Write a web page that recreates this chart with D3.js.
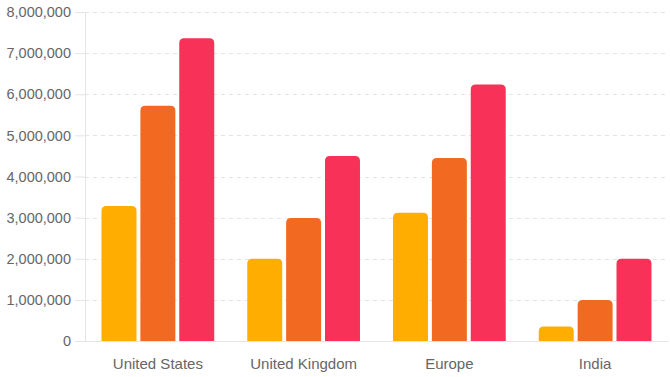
<!DOCTYPE html>
<html>
<head>
<meta charset="utf-8">
<script src="https://cdn.jsdelivr.net/npm/d3@7"></script>
<style>
  body { margin: 0; background: #fff; }
  #chart { width: 670px; height: 377px; }
  text { font-family: "Liberation Sans", Arial, sans-serif; }
</style>
</head>
<body>
<div id="chart"></div>
<script>
// data
const categories = ["United States", "United Kingdom", "Europe", "India"];
const seriesA = [3280000, 2000000, 3120000, 350000];
const seriesB = [5720000, 2990000, 4450000, 1000000];
const seriesC = [7360000, 4500000, 6240000, 2000000];
const yTicks = [0, 1000000, 2000000, 3000000, 4000000, 5000000, 6000000, 7000000, 8000000];
const colors = ["#ffad00", "#f26a21", "#f73157"];

const series = [seriesA, seriesB, seriesC];

const margin = {top: 12, right: 2, bottom: 36, left: 85};
const width = 670 - margin.left - margin.right;
const height = 377 - margin.top - margin.bottom;

const svg = d3.select("#chart").append("svg")
    .attr("width", 670)
    .attr("height", 377)
    .append("g")
    .attr("transform", `translate(${margin.left},${margin.top})`);

const x = d3.scaleBand()
    .domain(categories)
    .range([0, width])
    .paddingInner(0)
    .paddingOuter(0);

// chart.js style: category 80%, bar 90%
const xInner = d3.scaleBand()
    .domain(d3.range(series.length))
    .range([x.bandwidth() * 0.1, x.bandwidth() * 0.9])
    .paddingInner(0.1)
    .paddingOuter(0.05);

const y = d3.scaleLinear()
    .domain([0, 8000000])
    .range([height, 0]);

// grid lines
svg.append("g")
    .selectAll("line")
    .data(yTicks.filter(d => d > 0))
    .join("line")
    .attr("x1", 0)
    .attr("x2", width)
    .attr("y1", d => Math.round(y(d)) + 0.5)
    .attr("y2", d => Math.round(y(d)) + 0.5)
    .attr("stroke", "#e4e4e4")
    .attr("stroke-dasharray", "4,4");

// y axis
const yAxis = d3.axisLeft(y)
    .tickValues(yTicks)
    .tickFormat(d3.format(","))
    .tickSize(10)
    .tickPadding(4);

const gy = svg.append("g").attr("class", "y-axis").call(yAxis);
gy.select(".domain").attr("stroke", "#e4e4e4");
gy.selectAll(".tick line").attr("stroke", "#e4e4e4");
gy.selectAll(".tick text")
    .attr("fill", "#666")
    .style("font-size", "14.5px");

// x axis
const xAxis = d3.axisBottom(x).tickSize(0).tickPadding(17);
const gx = svg.append("g")
    .attr("class", "x-axis")
    .attr("transform", `translate(0,${height})`)
    .call(xAxis);
gx.select(".domain").attr("stroke", "#e4e4e4");
gx.selectAll(".tick text")
    .attr("fill", "#666")
    .style("font-size", "15px");

// bars with rounded top corners
function barPath(x0, w, yTop, yBot, r) {
    r = Math.min(r, w / 2, yBot - yTop);
    return `M${x0},${yBot}V${yTop + r}Q${x0},${yTop} ${x0 + r},${yTop}` +
        `H${x0 + w - r}Q${x0 + w},${yTop} ${x0 + w},${yTop + r}V${yBot}Z`;
}

const barData = categories.flatMap((c, i) =>
    series.map((s, j) => ({cat: c, idx: j, val: s[i]})));

svg.append("g")
    .selectAll(".bar")
    .data(barData)
    .join("path")
    .attr("class", "bar")
    .attr("d", d => barPath(x(d.cat) + xInner(d.idx), xInner.bandwidth(), y(d.val), y(0), 5))
    .attr("fill", d => colors[d.idx]);
</script>
</body>
</html>
